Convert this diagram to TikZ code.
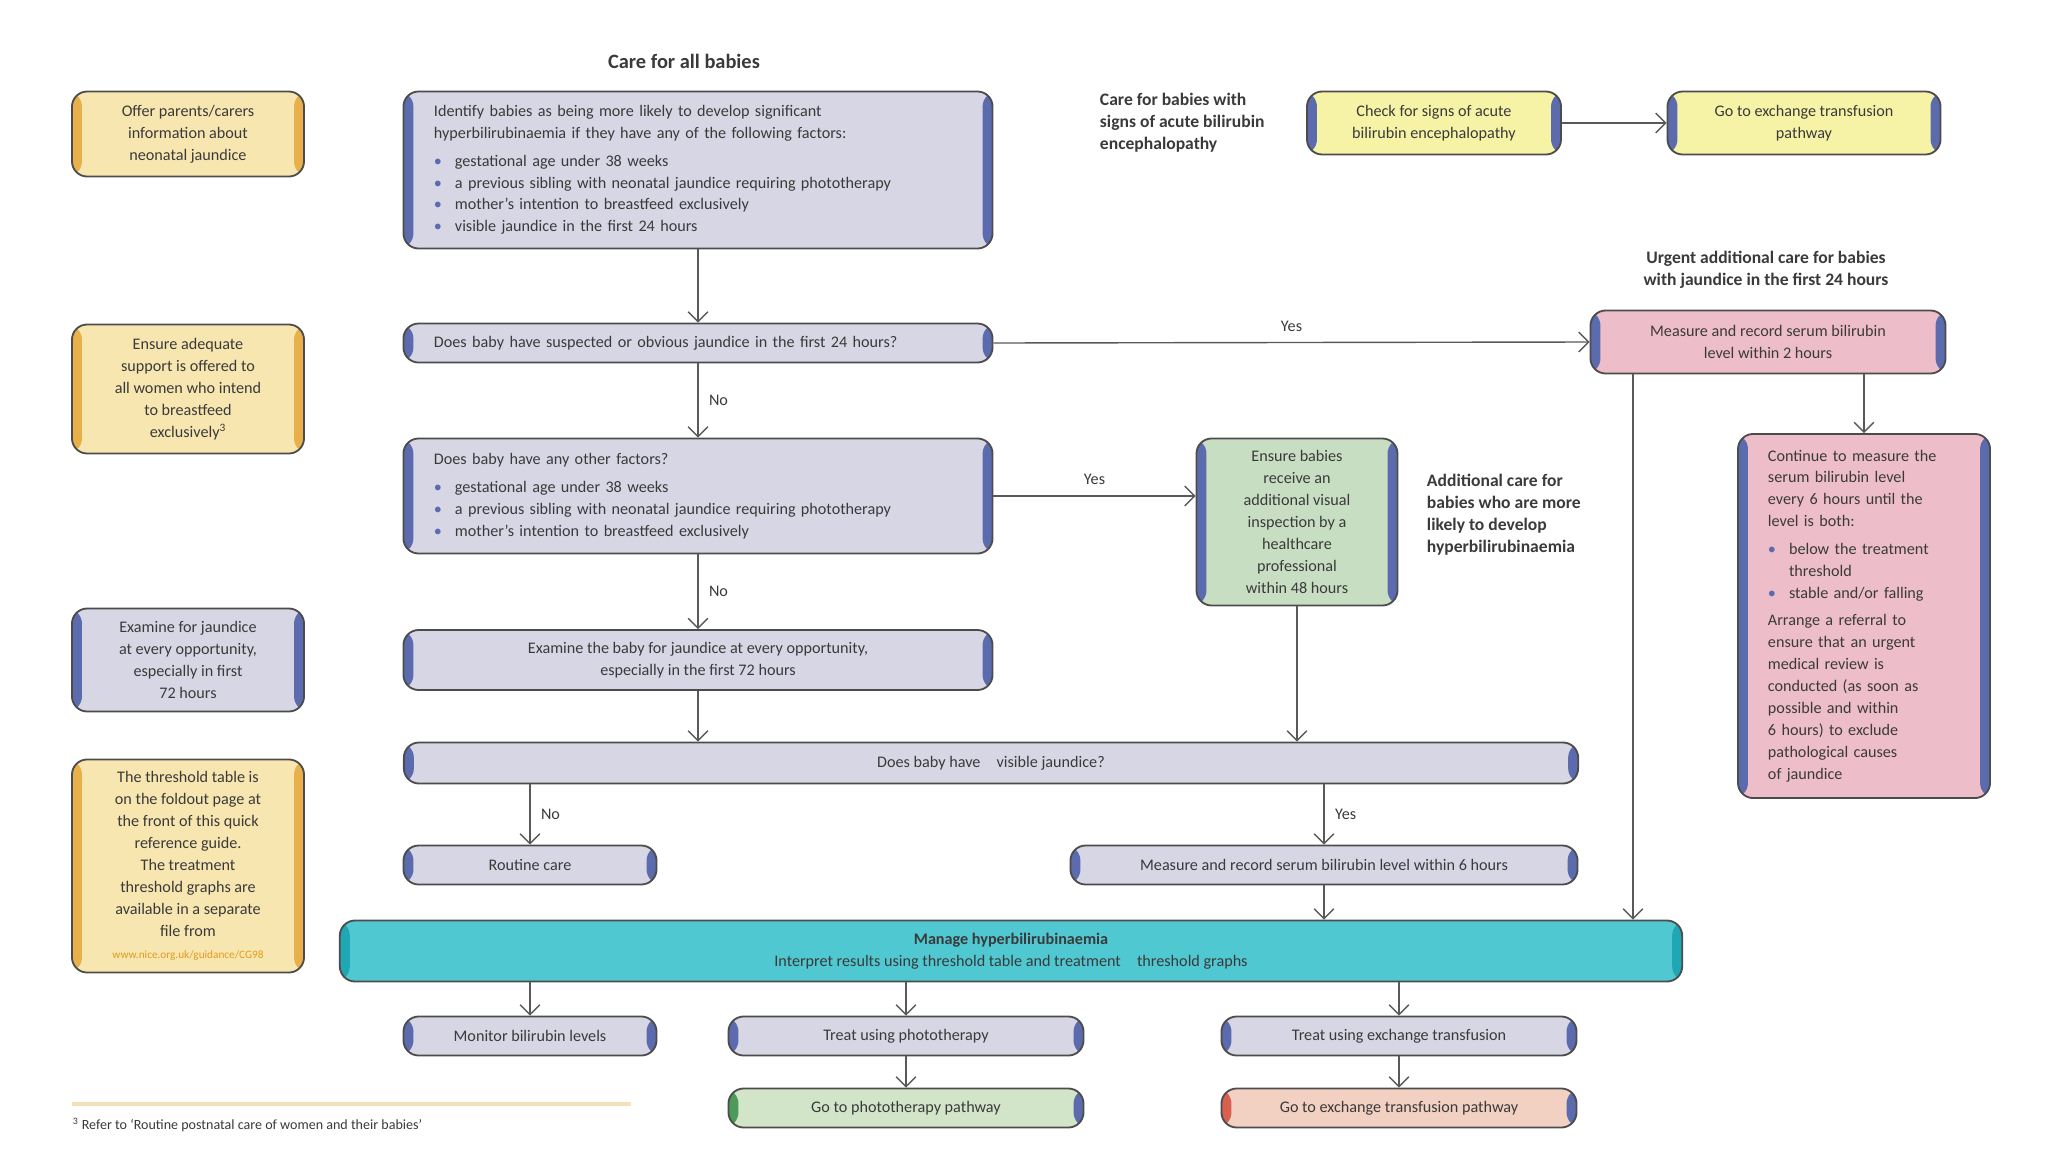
\documentclass[tikz,border=0pt]{standalone}
\usepackage{fontspec}
\setmainfont{Carlito}
\usetikzlibrary{arrows.meta,positioning}

\definecolor{ink}{HTML}{3A3A3A}
\definecolor{barblue}{HTML}{5B6BAE}
\definecolor{lav}{HTML}{D7D6E4}
\definecolor{cream}{HTML}{F8E6B0}
\definecolor{ochre}{HTML}{E8B04A}
\definecolor{lemon}{HTML}{F6F3A6}
\definecolor{rose}{HTML}{EDBDCA}
\definecolor{sage}{HTML}{C8DEC2}
\definecolor{teal}{HTML}{4FC8D1}
\definecolor{tealdark}{HTML}{1FA8B3}
\definecolor{leaf}{HTML}{D2E5C9}
\definecolor{leafbar}{HTML}{4E9A5A}
\definecolor{peach}{HTML}{F2D0C2}
\definecolor{brick}{HTML}{D9604F}
\definecolor{rule}{HTML}{F0E2B6}
\definecolor{link}{HTML}{E39A1C}

\newcommand\bul{\makebox[1.3em][l]{\textcolor{barblue}{\textbullet}}}
\newcommand\ind{\hspace*{1.3em}}

\tikzset{
  box/.style n args={3}{draw=black!70, line width=1.3pt, rounded corners=0.38cm,
    fill=#1, text=ink, inner sep=0pt,
    path picture={
      \fill[#2] (path picture bounding box.south west) rectangle
        ([xshift=0.25cm]path picture bounding box.north west);
      \fill[#3] (path picture bounding box.south east) rectangle
        ([xshift=-0.25cm]path picture bounding box.north east);}},
  lbox/.style={box={cream}{ochre}{ochre}, minimum width=5.8cm, align=center},
  gbox/.style={box={lav}{barblue}{barblue}},
  head/.style={font=\fontsize{12.5}{15.6}\selectfont\bfseries, text=ink, align=left},
  lab/.style={text=ink},
  flow/.style={draw=black!65, line width=1pt, -{Straight Barb[length=7pt,width=14pt]}}
}

\begin{document}
\begin{tikzpicture}[x=0.025cm, y=-0.025cm, font=\fontsize{11.5}{15.6}\selectfont]
\useasboundingbox (0,0) rectangle (2048,1152);

% left column
\node[lbox, minimum height=2.125cm] (offer) at (188,134)
  {Offer parents/carers\\ information about\\ neonatal jaundice};
\node[lbox, minimum height=3.225cm] (support) at (188,389)
  {Ensure adequate\\ support is offered to\\ all women who intend\\ to breastfeed\\ exclusively\textsuperscript{3}};
\node[gbox, minimum width=5.8cm, minimum height=2.575cm, align=center] (examl) at (188,660)
  {Examine for jaundice\\ at every opportunity,\\ especially in first\\ 72 hours};
\node[lbox, minimum height=5.325cm] (table) at (188,866)
  {The threshold table is\\ on the foldout page at\\ the front of this quick\\ reference guide.\\ The treatment\\ threshold graphs are\\ available in a separate\\ file from\\
   {\fontsize{8}{10}\selectfont\textcolor{link}{www.nice.org.uk/guidance/CG98}}};

% main column
\node[head, font=\fontsize{14.5}{16}\selectfont\bfseries] (title) at (684,61) {Care for all babies};
\node[gbox, minimum width=14.725cm, minimum height=3.925cm, text width=13.2cm, align=left] (identify) at (698,170)
  {Identify babies as being more likely to develop significant\\ hyperbilirubinaemia if they have any of the following factors:\\[4pt]
   \bul gestational age under 38 weeks\\ \bul a previous sibling with neonatal jaundice requiring phototherapy\\
   \bul mother's intention to breastfeed exclusively\\ \bul visible jaundice in the first 24 hours};
\node[gbox, minimum width=14.725cm, minimum height=0.975cm, text width=13.2cm, align=left] (early) at (698,343)
  {Does baby have suspected or obvious jaundice in the first 24 hours?};
\node[gbox, minimum width=14.725cm, minimum height=2.875cm, text width=13.2cm, align=left] (other) at (698,496)
  {Does baby have any other factors?\\[4pt]
   \bul gestational age under 38 weeks\\ \bul a previous sibling with neonatal jaundice requiring phototherapy\\
   \bul mother's intention to breastfeed exclusively};
\node[gbox, minimum width=14.725cm, minimum height=1.5cm, align=center] (exam) at (698,660)
  {Examine the baby for jaundice at every opportunity,\\ especially in the first 72 hours};
\node[gbox, minimum width=29.35cm, minimum height=1.025cm] (visible) at (991,763)
  {Does baby have\quad visible jaundice?};
\node[gbox, minimum width=6.325cm, minimum height=0.975cm] (routine) at (530,865) {Routine care};
\node[gbox, minimum width=12.675cm, minimum height=0.975cm] (six) at (1324,865)
  {Measure and record serum bilirubin level within 6 hours};
\node[box={teal}{tealdark}{tealdark}, minimum width=33.55cm, minimum height=1.525cm, align=center] (manage) at (1011,951)
  {\textbf{Manage hyperbilirubinaemia}\\ Interpret results using threshold table and treatment\quad threshold graphs};
\node[gbox, minimum width=6.325cm, minimum height=0.975cm] (monitor) at (530,1036) {Monitor bilirubin levels};
\node[gbox, minimum width=8.875cm, minimum height=0.975cm] (photo) at (906,1036) {Treat using phototherapy};
\node[gbox, minimum width=8.875cm, minimum height=0.975cm] (exch) at (1399,1036) {Treat using exchange transfusion};
\node[box={leaf}{leafbar}{barblue}, minimum width=8.875cm, minimum height=0.975cm] (gophoto) at (906,1108) {Go to phototherapy pathway};
\node[box={peach}{brick}{barblue}, minimum width=8.875cm, minimum height=0.975cm] (goexch) at (1399,1108) {Go to exchange transfusion pathway};

% right side
\node[head, anchor=west] (acutehd) at (1095,123) {Care for babies with\\ signs of acute bilirubin\\ encephalopathy};
\node[box={lemon}{barblue}{barblue}, minimum width=6.35cm, minimum height=1.575cm, align=center] (check) at (1434,123)
  {Check for signs of acute\\ bilirubin encephalopathy};
\node[box={lemon}{barblue}{barblue}, minimum width=6.825cm, minimum height=1.575cm, align=center] (gotop) at (1804,123)
  {Go to exchange transfusion\\ pathway};
\node[head, align=center] (urgenthd) at (1766,270) {Urgent additional care for babies\\ with jaundice in the first 24 hours};
\node[box={rose}{barblue}{barblue}, minimum width=8.875cm, minimum height=1.575cm, align=center] (twohr) at (1768,342)
  {Measure and record serum bilirubin\\ level within 2 hours};
\node[box={rose}{barblue}{barblue}, minimum width=6.3cm, minimum height=9.1cm, text width=4.8cm, align=left] (repeat) at (1864,616)
  {Continue to measure the\\ serum bilirubin level\\ every 6 hours until the\\ level is both:\\[4pt]
   \bul below the treatment\\ \ind threshold\\ \bul stable and/or falling\\[4pt]
   Arrange a referral to\\ ensure that an urgent\\ medical review is\\ conducted (as soon as\\ possible and within\\ 6 hours) to exclude\\ pathological causes\\ of jaundice};
\node[box={sage}{barblue}{barblue}, minimum width=5.025cm, minimum height=4.175cm, align=center] (visual) at (1297,522)
  {Ensure babies\\ receive an\\ additional visual\\ inspection by a\\ healthcare\\ professional\\ within 48 hours};
\node[head, anchor=west] (addhd) at (1422,515) {Additional care for\\ babies who are more\\ likely to develop\\ hyperbilirubinaemia};

% footnote
\coordinate (fa) at (72,1104);
\coordinate (fb) at (631,1104);
\draw[rule, line width=2.5pt] (fa) -- (fb);
\node[lab, anchor=west, font=\fontsize{10}{12}\selectfont] (foot) at (68,1125)
  {\textsuperscript{3} Refer to `Routine postnatal care of women and their babies'};

% connectors
\draw[flow] (identify) -- (early);
\draw[flow] (early) -- node[lab, right=4pt] (no1) {No} (other);
\draw[flow] (other) -- node[lab, right=4pt] (no2) {No} (exam);
\draw[flow] (exam) -- (exam |- visible.north);
\draw[flow] (early.east) -- node[lab, above=4pt] (yes1) {Yes} (twohr.west);
\draw[flow] (other.east) -- node[lab, above=4pt] (yes2) {Yes} (other.east -| visual.west);
\draw[flow] (visual.south) -- (visual.south |- visible.north);
\draw[flow] (check) -- (gotop);
\draw[flow] (twohr.south -| repeat.north) -- (repeat.north);
\coordinate (drop) at (1633,0);
\draw[flow] (drop |- twohr.south) -- (drop |- manage.north);
\draw[flow] (routine.north |- visible.south) -- node[lab, right=4pt] (no3) {No} (routine.north);
\draw[flow] (six.north |- visible.south) -- node[lab, right=4pt] (yes3) {Yes} (six.north);
\draw[flow] (six) -- (six |- manage.north);
\draw[flow] (monitor.north |- manage.south) -- (monitor.north);
\draw[flow] (photo.north |- manage.south) -- (photo.north);
\draw[flow] (exch.north |- manage.south) -- (exch.north);
\draw[flow] (photo) -- (gophoto);
\draw[flow] (exch) -- (goexch);
\end{tikzpicture}
\end{document}
